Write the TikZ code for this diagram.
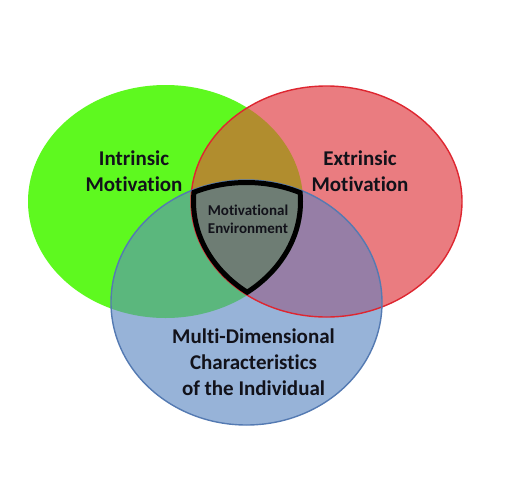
\documentclass[tikz,border=0pt]{standalone}
\usepackage{fontspec}
\setmainfont{Carlito}[Ligatures=NoCommon]
\usepackage{xcolor}
\usetikzlibrary{positioning}
\definecolor{intrgreen}{RGB}{94,249,31}
\definecolor{extrred}{RGB}{234,124,128}
\definecolor{extrline}{RGB}{222,38,48}
\definecolor{multiblue}{RGB}{151,179,216}
\definecolor{multiline}{RGB}{84,122,178}
\definecolor{ieolive}{RGB}{177,141,46}
\definecolor{imteal}{RGB}{91,183,125}
\definecolor{empurple}{RGB}{150,126,166}
\definecolor{envgray}{RGB}{110,125,116}
\definecolor{labelink}{RGB}{18,18,26}

\newcommand{\setIntr}{(165.5,201.5) ellipse [x radius=137.5, y radius=116.5]}
\newcommand{\setExtr}{(326.5,201.5) ellipse [x radius=135.5, y radius=115.5]}
\newcommand{\setMulti}{(246.5,302.5) ellipse [x radius=135.5, y radius=122.5]}

\begin{document}
\begin{tikzpicture}[x=1pt, y=-1pt,
  biglabel/.style={font=\fontsize{21}{26}\selectfont\bfseries, text=labelink, align=center},
  smalllabel/.style={font=\fontsize{15}{18}\selectfont\bfseries, text=labelink, align=center}]
\useasboundingbox (0,0) rectangle (506,493);
% the three sets
\fill[intrgreen] \setIntr;
\fill[extrred] \setExtr;
\fill[multiblue] \setMulti;
% pairwise overlaps
\begin{scope} \clip \setIntr; \fill[ieolive] \setExtr; \end{scope}
\begin{scope} \clip \setIntr; \fill[imteal] \setMulti; \end{scope}
\begin{scope} \clip \setExtr; \fill[empurple] \setMulti; \end{scope}
\begin{scope} \clip \setIntr; \clip \setExtr; \fill[envgray] \setMulti; \end{scope}
\draw[extrline, line width=1.4pt] \setExtr;
\draw[multiline, line width=1.4pt] \setMulti;
% shield round the common part
\begin{scope}
  \clip \setIntr; \clip \setExtr; \clip \setMulti;
  \draw[black, line width=10pt, line join=round] \setIntr \setExtr \setMulti;
\end{scope}
\node[biglabel] (intr) at (134,171) {Intrinsic\\Motivation};
\node[biglabel] (extr) at (360,171) {Extrinsic\\Motivation};
\node[smalllabel] (env) at (248,219) {Motivational\\Environment};
\node[biglabel] (multi) at (253.5,362) {Multi-Dimensional\\Characteristics\\of the Individual};
\end{tikzpicture}
\end{document}
